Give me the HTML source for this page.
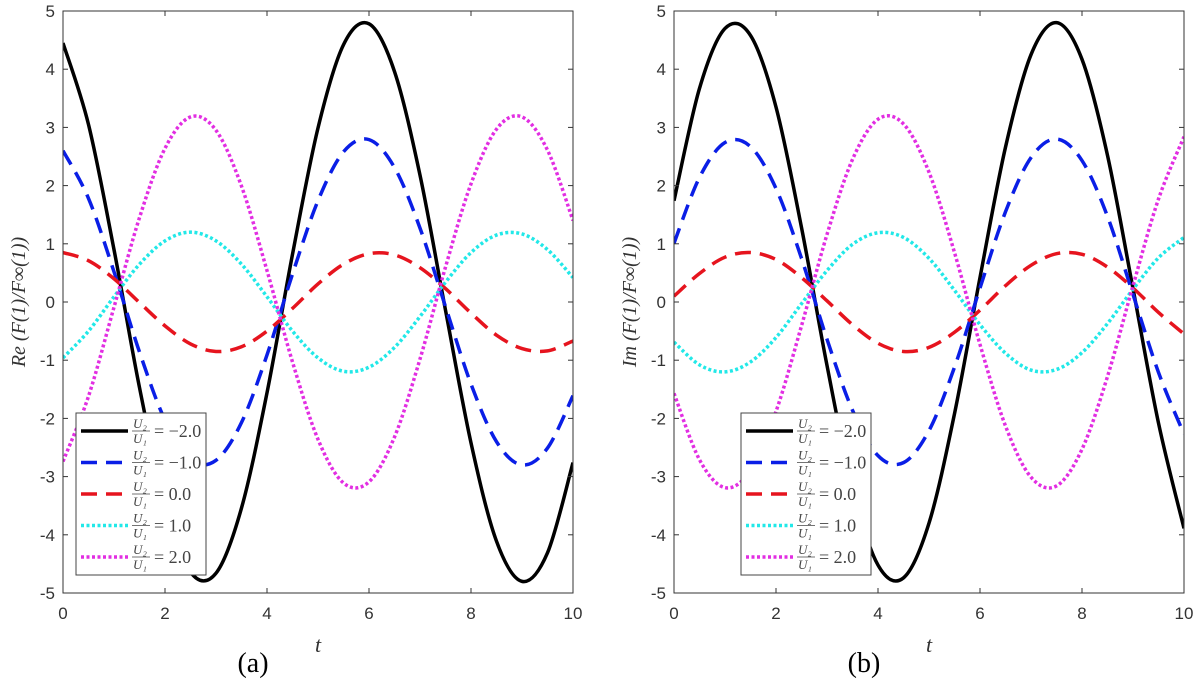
<!DOCTYPE html>
<html><head><meta charset="utf-8"><style>
body{margin:0;background:#fff;}
svg{display:block;font-family:"Liberation Sans",sans-serif;}
.serif{font-family:"Liberation Serif",serif;}
</style></head><body>
<svg id="fig" width="1200" height="685" xmlns="http://www.w3.org/2000/svg"></svg>
<script>
const tValues=[0,0.5,1,1.5,2,2.5,3,3.5,4,4.5,5,5.5,6,6.5,7,7.5,8,8.5,9,9.5,10];
const xTicks=[0,2,4,6,8,10];
const yTicks=[5,4,3,2,1,0,-1,-2,-3,-4,-5];
const legendLabels=["\u22122.0","\u22121.0","0.0","1.0","2.0"];
const reBlack=[4.45,3.05,0.90,-1.47,-3.48,-4.64,-4.66,-3.54,-1.56,0.82,2.99,4.42,4.78,3.96,2.18,-0.14,-2.42,-4.11,-4.80,-4.31,-2.76];
const reBlue=[2.60,1.78,0.52,-0.86,-2.03,-2.71,-2.72,-2.07,-0.91,0.48,1.74,2.58,2.79,2.31,1.27,-0.08,-1.41,-2.40,-2.80,-2.51,-1.61];
const reRed=[0.85,0.71,0.40,-0.01,-0.41,-0.72,-0.85,-0.77,-0.50,-0.11,0.31,0.65,0.83,0.81,0.59,0.23,-0.19,-0.57,-0.80,-0.84,-0.67];
const reCyan=[-0.96,-0.50,0.09,0.65,1.05,1.20,1.05,0.65,0.09,-0.50,-0.96,-1.19,-1.12,-0.78,-0.25,0.34,0.85,1.15,1.17,0.90,0.42];
const reMagenta=[-2.74,-1.62,-0.09,1.45,2.64,3.18,2.95,1.99,0.54,-1.03,-2.36,-3.11,-3.09,-2.32,-0.98,0.60,2.03,2.97,3.18,2.61,1.40];
const imBlack=[1.74,3.67,4.70,4.58,3.35,1.28,-1.09,-3.20,-4.52,-4.74,-3.80,-1.92,0.42,2.66,4.25,4.80,4.17,2.52,0.23,-2.08,-3.89];
const imBlue=[1.01,2.14,2.74,2.67,1.95,0.75,-0.64,-1.86,-2.64,-2.76,-2.21,-1.12,0.24,1.55,2.48,2.80,2.43,1.47,0.13,-1.21,-2.27];
const imRed=[0.10,0.49,0.77,0.85,0.73,0.42,0.02,-0.39,-0.71,-0.85,-0.78,-0.52,-0.14,0.28,0.63,0.83,0.82,0.60,0.24,-0.18,-0.55];
const imCyan=[-0.69,-1.08,-1.20,-1.03,-0.61,-0.03,0.54,0.99,1.19,1.11,0.75,0.20,-0.39,-0.88,-1.17,-1.16,-0.87,-0.37,0.22,0.76,1.11];
const imMagenta=[-1.57,-2.71,-3.19,-2.89,-1.88,-0.41,1.16,2.45,3.14,3.06,2.23,0.85,-0.73,-2.13,-3.01,-3.16,-2.53,-1.28,0.28,1.77,2.84];

const NS="http://www.w3.org/2000/svg";
const svg=document.getElementById('fig');
const styles=[
 {c:"#000",w:3.5,d:""},
 {c:"#0a1ee6",w:3.5,d:"16,9"},
 {c:"#e6141e",w:3.5,d:"16,9"},
 {c:"#22e8e8",w:3.5,d:"3,2.5"},
 {c:"#e22ee2",w:3.5,d:"3,2.5"}];
function mk(tag,attrs,parent){const e=document.createElementNS(NS,tag);for(const k in attrs)e.setAttribute(k,attrs[k]);(parent||svg).appendChild(e);return e;}
function smooth(pts){let d="M"+pts[0][0]+","+pts[0][1];
 for(let i=0;i<pts.length-1;i++){const p0=pts[Math.max(0,i-1)],p1=pts[i],p2=pts[i+1],p3=pts[Math.min(pts.length-1,i+2)];
  const c1=[p1[0]+(p2[0]-p0[0])/6,p1[1]+(p2[1]-p0[1])/6],c2=[p2[0]-(p3[0]-p1[0])/6,p2[1]-(p3[1]-p1[1])/6];
  d+=" C"+c1[0].toFixed(2)+","+c1[1].toFixed(2)+" "+c2[0].toFixed(2)+","+c2[1].toFixed(2)+" "+p2[0].toFixed(2)+","+p2[1].toFixed(2);}
 return d;}
function panel(x0,prefix,series,yLab,lbl,legX){
 const x1=x0+510,yTop=11,yBot=593;
 const X=t=>x0+(t-0)/10*(x1-x0);
 const Y=v=>yBot-(v+5)/10*(yBot-yTop);
 const g=mk('g',{});
 
 
 const clipId=prefix+'clip';
 const cp=mk('clipPath',{id:clipId},g);mk('rect',{x:x0,y:yTop,width:x1-x0,height:yBot-yTop},cp);
 series.forEach((s,i)=>{
  const pts=tValues.map((t,j)=>[X(t),Y(s[j])]);
  const p=mk('path',{d:smooth(pts),fill:"none",stroke:styles[i].c,"stroke-width":styles[i].w,"stroke-dasharray":styles[i].d,"clip-path":"url(#"+clipId+")"},g);
  
  
 });
 const box=mk('rect',{x:x0,y:yTop,width:x1-x0,height:yBot-yTop,fill:"none",stroke:"#333","stroke-width":1},g);
 
 
 xTicks.forEach(t=>{
  mk('line',{x1:X(t),x2:X(t),y1:yBot,y2:yBot-5,stroke:"#333"},g);
  mk('line',{x1:X(t),x2:X(t),y1:yTop,y2:yTop+5,stroke:"#333"},g);
  const tx=mk('text',{x:X(t),y:yBot+26,"text-anchor":"middle","font-size":17,fill:"#333"},g);tx.textContent=t;
  
  
 });
 yTicks.forEach(v=>{
  mk('line',{x1:x0,x2:x0+5,y1:Y(v),y2:Y(v),stroke:"#333"},g);
  mk('line',{x1:x1,x2:x1-5,y1:Y(v),y2:Y(v),stroke:"#333"},g);
  const tx=mk('text',{x:x0-8,y:Y(v)+6,"text-anchor":"end","font-size":17,fill:"#333"},g);tx.textContent=v;
  
  
 });
 const xt=mk('text',{x:(x0+x1)/2,y:yBot+59,"text-anchor":"middle","font-size":22,"font-style":"italic","class":"serif",fill:"#333"},g);xt.textContent="t";
 
 
 const yl=mk('text',{transform:"translate("+(x0-38)+","+Y(0)+") rotate(-90)","text-anchor":"middle","font-size":20,"font-style":"italic","class":"serif",fill:"#333"},g);yl.textContent=yLab;
 
 
 const cap=mk('text',{x:x0+190,y:672,"text-anchor":"middle","font-size":28,"class":"serif",fill:"#000"},g);cap.textContent=lbl;
 
 
 const lg=mk('g',{},g);
 
 
 mk('rect',{x:legX,y:413,width:130,height:162,fill:"#fff",stroke:"#444","stroke-width":1},lg);
 legendLabels.forEach((l,i)=>{
  const cy=431+i*31.5;
  mk('line',{x1:legX+5,x2:legX+52,y1:cy,y2:cy,stroke:styles[i].c,"stroke-width":styles[i].w,"stroke-dasharray":styles[i].d},lg);
  const n=mk('text',{x:legX+57,y:cy-3,"font-size":13,"font-style":"italic","class":"serif",fill:"#444"},lg);n.textContent="U₂";
  mk('line',{x1:legX+56,x2:legX+74,y1:cy,y2:cy,stroke:"#444","stroke-width":0.8},lg);
  const dn=mk('text',{x:legX+57,y:cy+12,"font-size":13,"font-style":"italic","class":"serif",fill:"#444"},lg);dn.textContent="U₁";
  const e=mk('text',{x:legX+78,y:cy+6,"font-size":18,"class":"serif",fill:"#444"},lg);e.textContent="= "+l;
  
  
 });
}
panel(63,"re",[reBlack,reBlue,reRed,reCyan,reMagenta],"Re (F(1)/F∞(1))","(a)",76);
panel(674,"im",[imBlack,imBlue,imRed,imCyan,imMagenta],"Im (F(1)/F∞(1))","(b)",741);
</script>
</body></html>
